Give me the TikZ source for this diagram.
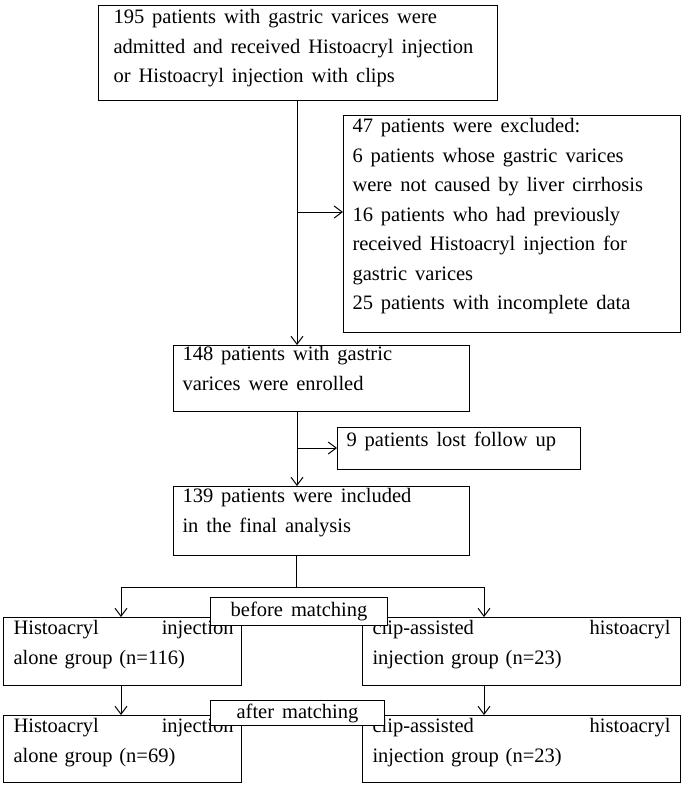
\documentclass[tikz,border=0pt]{standalone}
\usepackage{fontspec}
\setmainfont{Liberation Serif}
\usetikzlibrary{arrows.meta}
\newcommand\mywsp{\spaceskip=8pt plus 2pt\relax}
\begin{document}
\begin{tikzpicture}[x=1pt,y=-1pt,
  box/.style={draw,line width=1pt,anchor=north west,align=left,inner xsep=9pt,inner ysep=0pt,font=\fontsize{20.5}{29.5}\selectfont\mywsp},
  arr/.style={line width=1pt,-{Straight Barb[length=8pt,width=12pt]}}]
\useasboundingbox (0,0) rectangle (685,785);
\draw[line width=1pt] (98,5) rectangle (497,100);
\node[box,draw=none] (a) at (104,9) {195 patients with gastric varices were\\admitted and received Histoacryl injection\\or Histoacryl injection with clips};
\coordinate (aS) at (297,100);
\draw[line width=1pt] (343,115) rectangle (680,332);
\node[box,draw=none] (b) at (343,118) {47 patients were excluded:\\6 patients whose gastric varices\\were not caused by liver cirrhosis\\16 patients who had previously\\received Histoacryl injection for\\gastric varices\\25 patients with incomplete data};
\coordinate (bW) at (343,212);
\draw[line width=1pt] (173,345) rectangle (469,411);
\node[box,draw=none] (c) at (173,346) {148 patients with gastric\\varices were enrolled};
\coordinate (cN) at (297,345); \coordinate (cS) at (297,411);
\draw[line width=1pt] (337,427) rectangle (580,469);
\node[box,draw=none] (d) at (337,432) {9 patients lost follow up};
\coordinate (dW) at (337,448);
\draw[line width=1pt] (173,486) rectangle (469,555);
\node[box,draw=none] (e) at (173,488) {139 patients were included\\in the final analysis};
\coordinate (eN) at (297,486); \coordinate (eS) at (296,555);
\draw[line width=1pt] (3,617) rectangle (241,685);
\node[box,draw=none,text width=220pt,inner xsep=10pt] (f) at (3,620) {Histoacryl\hfill injection\\alone group (n=116)};
\draw[line width=1pt] (362,617) rectangle (680,685);
\node[box,draw=none,text width=298pt,inner xsep=10pt] (g) at (362,620) {clip-assisted\hfill histoacryl\\injection group (n=23)};
\draw[line width=1pt] (3,715) rectangle (241,782);
\node[box,draw=none,text width=220pt,inner xsep=10pt] (h) at (3,718) {Histoacryl\hfill injection\\alone group (n=69)};
\draw[line width=1pt] (362,715) rectangle (680,782);
\node[box,draw=none,text width=298pt,inner xsep=10pt] (i) at (362,718) {clip-assisted\hfill histoacryl\\injection group (n=23)};
% connectors
\draw[arr] (aS) -- (cN);
\draw[arr] (297,212) -- (bW);
\draw[arr] (cS) -- (eN);
\draw[arr] (297,448) -- (dW);
\draw[line width=1pt] (eS) -- (296,587);
\draw[line width=1pt] (121,587) -- (484,587);
\draw[arr] (121,587) -- (121,617);
\draw[arr] (484,587) -- (484,617);
\draw[arr] (121,685) -- (121,715);
\draw[arr] (484,685) -- (484,715);
\node[box,fill=white,minimum width=177pt,minimum height=28pt,anchor=north west,inner xsep=0pt,align=center] (bm) at (210,597) {before matching};
\node[box,fill=white,minimum width=174pt,minimum height=25pt,anchor=north west,inner xsep=0pt,align=center] (am) at (210,700) {after matching};
\end{tikzpicture}
\end{document}
